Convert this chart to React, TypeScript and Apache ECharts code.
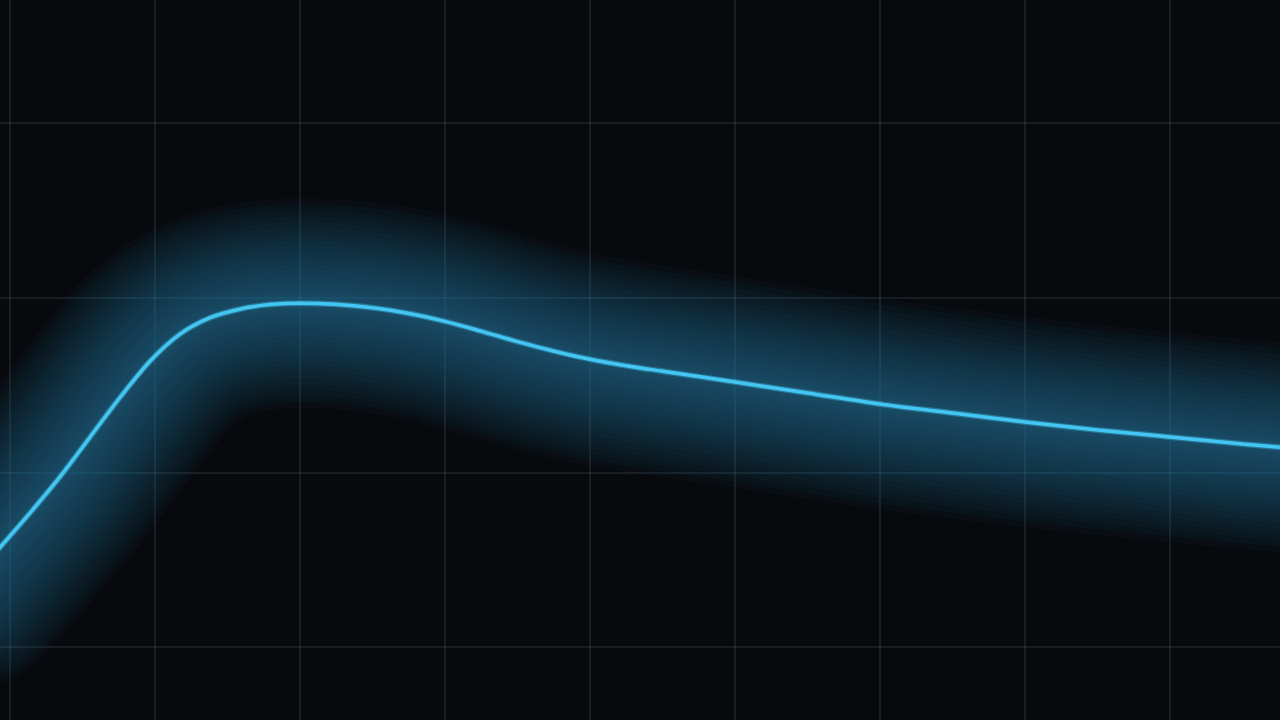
import React, { useEffect, useRef } from 'react';
import * as echarts from 'echarts';

// x in grid cells, y in grid cells from the (off-screen) bottom grid line
const xs: number[] = [0.72, 0.93, 1.14, 1.35, 1.55, 1.76, 1.97, 2.17, 2.38, 2.59, 2.79, 3.0, 3.24, 3.5, 3.76, 4.0, 4.24, 4.5, 4.76, 5.0, 5.28, 5.5, 6.0, 6.5, 7.0, 7.5, 8.0, 8.5, 9.0, 9.5, 10.0];
const ys: number[] = [1.37, 1.57, 1.77, 1.98, 2.2, 2.43, 2.64, 2.79, 2.885, 2.935, 2.96, 2.968, 2.962, 2.942, 2.908, 2.864, 2.81, 2.748, 2.692, 2.647, 2.606, 2.579, 2.517, 2.454, 2.391, 2.34, 2.288, 2.243, 2.203, 2.162, 2.128];

// soft glow made of stacked translucent strokes
const glowWidths: number[] = [210, 198, 186, 174, 162, 150, 138, 126, 114, 102, 90, 78, 66, 54, 42, 30, 20, 12];

const App: React.FC = () => {
  const chartRef = useRef<HTMLDivElement | null>(null);

  useEffect(() => {
    document.body.style.overflow = 'hidden';
    const chart = echarts.init(chartRef.current!, undefined, { renderer: 'svg' });
    const points = xs.map((x, i) => [x, ys[i]]);

    const base = {
      type: 'line',
      data: points,
      smooth: 0.3,
      symbol: 'none',
      silent: true,
      clip: false
    };

    const glow = glowWidths.map((w, i) => ({
      ...base,
      z: 1 + i,
      lineStyle: {
        width: w,
        color: 'rgba(40,140,190,0.042)',
        cap: 'round',
        join: 'round'
      }
    }));

    const option = {
      animation: false,
      backgroundColor: '#07090c',
      grid: { left: 0, right: 0, top: 0, bottom: 0, containLabel: false },
      xAxis: {
        type: 'value',
        min: 0,
        max: 10,
        interval: 1,
        axisLine: { show: false },
        axisTick: { show: false },
        axisLabel: { show: false },
        splitLine: { show: true, lineStyle: { color: 'rgba(130,150,170,0.2)', width: 1.5 } }
      },
      yAxis: {
        type: 'value',
        min: 0,
        max: 5,
        interval: 1,
        axisLine: { show: false },
        axisTick: { show: false },
        axisLabel: { show: false },
        splitLine: { show: true, lineStyle: { color: 'rgba(130,150,170,0.2)', width: 1.5 } }
      },
      series: [
        ...glow,
        {
          ...base,
          z: 30,
          lineStyle: { width: 6, color: 'rgba(70,200,245,0.35)' }
        },
        {
          ...base,
          z: 31,
          lineStyle: { width: 3.5, color: '#44c6f2' }
        }
      ]
    };

    chart.setOption(option);
    return () => {
      chart.dispose();
    };
  }, []);

  // the chart is larger than the window so that its grid lines fall where the reference has them
  return (
    <div
      ref={chartRef}
      style={{ position: 'fixed', left: '-135px', top: '-52px', width: '1450px', height: '874px' }}
    />
  );
};

export default App;
